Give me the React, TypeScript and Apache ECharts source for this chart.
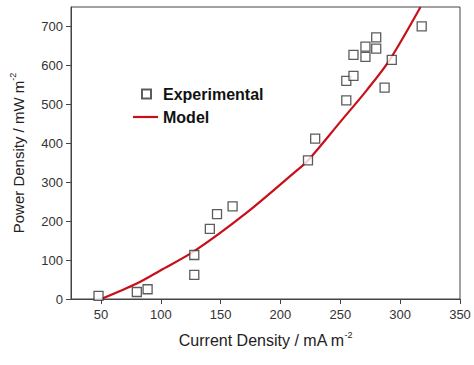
import React, { useEffect, useRef } from "react";
import * as echarts from "echarts";

const expX = [48, 80, 89, 128, 128, 141, 147, 160, 223, 229, 255, 255, 261, 261, 271, 271, 280, 280, 287, 293, 318];
const expY = [8, 18, 25, 62, 113, 180, 218, 238, 356, 412, 510, 560, 573, 627, 622, 648, 643, 672, 543, 614, 700];

const modelX = [50, 80, 100, 128, 171, 212, 223, 250, 272, 291, 317];
const modelY = [0, 40, 74, 123, 220, 326, 356, 455, 536, 613, 750];

const xTicks = [50, 100, 150, 200, 250, 300, 350];
const yTicks = [0, 100, 200, 300, 400, 500, 600, 700];

export default function App() {
  const ref = useRef<HTMLDivElement>(null);
  useEffect(() => {
    if (!ref.current) return;
    const chart = echarts.init(ref.current, null, { renderer: "svg" });
    const font = "Liberation Sans, Arial, sans-serif";
    const axisColor = "#444";
    chart.setOption({
      animation: false,
      textStyle: { fontFamily: font },
      grid: { left: 60, right: 14, top: 7, bottom: 66, show: true, borderColor: axisColor, borderWidth: 1 },
      legend: [
        {
          data: [{ name: "Experimental" }],
          left: 136,
          top: 81,
          itemWidth: 9,
          itemHeight: 9,
          textStyle: { fontSize: 16, fontWeight: "bold", color: "#111", fontFamily: font, padding: [0, 0, 0, 7] },
          selectedMode: false,
        },
        {
          data: [{ name: "Model", icon: "rect" }],
          left: 128,
          top: 104,
          itemWidth: 25,
          itemHeight: 2.2,
          textStyle: { fontSize: 16, fontWeight: "bold", color: "#111", fontFamily: font },
          selectedMode: false,
        },
      ],
      xAxis: {
        type: "value",
        min: 25,
        max: 350,
        name: "{a|Current Density / mA m}{s|-2}",
        nameLocation: "middle",
        nameGap: 31,
        nameTextStyle: {
          rich: {
            a: { fontSize: 16, color: "#222", fontFamily: font, lineHeight: 18, verticalAlign: "bottom" },
            s: { fontSize: 9, color: "#222", fontFamily: font, lineHeight: 18, verticalAlign: "top", padding: [0, 0, 6, 0] },
          },
        },
        axisLine: { lineStyle: { color: axisColor, width: 1 } },
        axisTick: { show: true, length: 5, lineStyle: { color: axisColor }, customValues: xTicks },
        axisLabel: { fontSize: 13, color: "#333", margin: 9, customValues: xTicks, fontFamily: font },
        splitLine: { show: false },
      },
      yAxis: {
        type: "value",
        min: 0,
        max: 750,
        name: "{a|Power Density / mW m}{s|-2}",
        nameLocation: "middle",
        nameGap: 45,
        nameRotate: 90,
        nameTextStyle: {
          rich: {
            a: { fontSize: 15, color: "#222", fontFamily: font, lineHeight: 18, verticalAlign: "bottom" },
            s: { fontSize: 9, color: "#222", fontFamily: font, lineHeight: 18, verticalAlign: "top", padding: [0, 0, 6, 0] },
          },
        },
        axisLine: { show: true, lineStyle: { color: axisColor, width: 1 } },
        axisTick: { show: true, length: 5, lineStyle: { color: axisColor }, customValues: yTicks },
        axisLabel: { fontSize: 13, color: "#333", margin: 8, customValues: yTicks, fontFamily: font },
        splitLine: { show: false },
      },
      series: [
        {
          name: "Experimental",
          type: "scatter",
          symbol: "rect",
          symbolSize: 9,
          data: expX.map((x, i) => [x, expY[i]]),
          itemStyle: { color: "#fff", borderColor: "#333", borderWidth: 1.3 },
          z: 3,
        },
        {
          name: "Model",
          type: "line",
          smooth: 0.3,
          symbol: "none",
          data: modelX.map((x, i) => [x, modelY[i]]),
          lineStyle: { color: "#c8101a", width: 2.2 },
          itemStyle: { color: "#c8101a" },
          z: 2,
        },
      ],
    });
    return () => chart.dispose();
  }, []);
  return <div ref={ref} style={{ position: "fixed", left: 0, top: 0, width: 474, height: 365, background: "#fff" }} />;
}
